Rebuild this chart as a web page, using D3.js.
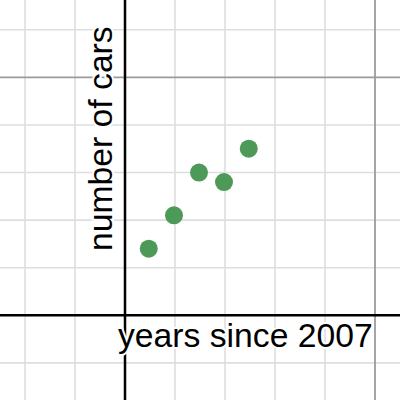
<!DOCTYPE html>
<html>
<head>
<meta charset="utf-8">
<script src="https://cdn.jsdelivr.net/npm/d3@7"></script>
<style>
  html, body { margin: 0; padding: 0; background: #fff; }
  svg { display: block; }
</style>
</head>
<body>
<div id="chart"></div>
<script>
// data
const years = [0.95, 1.96, 2.96, 3.96, 4.95];
const cars = [2.8, 4.2, 6.0, 5.6, 7.0];

// grid lines (minor every 2, major every 10)
const xGrid = [-4, -2, 2, 4, 6, 8];
const xMajor = [10];
const yGrid = [-2, 2, 4, 6, 8, 12];
const yMajor = [10];

const xTitle = "years since 2007";
const yTitle = "number of cars";

const width = 400;
const height = 400;

const svg = d3.select("#chart")
  .append("svg")
  .attr("width", width)
  .attr("height", height);

// scales
const x = d3.scaleLinear().domain([-5, 11]).range([0, width]);
const y = d3.scaleLinear().domain([-3.56, 13.25]).range([height, 0]);

// minor grid
svg.selectAll("line.vminor")
  .data(xGrid)
  .enter()
  .append("line")
  .attr("x1", d => x(d)).attr("x2", d => x(d))
  .attr("y1", 0).attr("y2", height)
  .attr("stroke", "#dedede")
  .attr("stroke-width", 1.6);

svg.selectAll("line.hminor")
  .data(yGrid)
  .enter()
  .append("line")
  .attr("x1", 0).attr("x2", width)
  .attr("y1", d => y(d)).attr("y2", d => y(d))
  .attr("stroke", "#dedede")
  .attr("stroke-width", 1.6);

// major grid
svg.selectAll("line.vmajor")
  .data(xMajor)
  .enter()
  .append("line")
  .attr("x1", d => x(d)).attr("x2", d => x(d))
  .attr("y1", 0).attr("y2", height)
  .attr("stroke", "#9b9b9b")
  .attr("stroke-width", 1.8);

svg.selectAll("line.hmajor")
  .data(yMajor)
  .enter()
  .append("line")
  .attr("x1", 0).attr("x2", width)
  .attr("y1", d => y(d)).attr("y2", d => y(d))
  .attr("stroke", "#9b9b9b")
  .attr("stroke-width", 1.8);

// axes
svg.append("line")
  .attr("x1", 0).attr("x2", width)
  .attr("y1", y(0)).attr("y2", y(0))
  .attr("stroke", "#000")
  .attr("stroke-width", 2.5);

svg.append("line")
  .attr("x1", x(0)).attr("x2", x(0))
  .attr("y1", 0).attr("y2", height)
  .attr("stroke", "#000")
  .attr("stroke-width", 2.5);

// axis titles with a white halo
svg.append("text")
  .attr("x", 118)
  .attr("y", 347)
  .style("font-family", "'Liberation Sans', Arial, sans-serif")
  .style("font-size", "33.7px")
  .attr("fill", "#000")
  .attr("stroke", "#fff")
  .attr("stroke-width", 4)
  .attr("paint-order", "stroke")
  .text(xTitle);

svg.append("text")
  .attr("transform", "translate(112,251) rotate(-90)")
  .style("font-family", "'Liberation Sans', Arial, sans-serif")
  .style("font-size", "33.7px")
  .attr("fill", "#000")
  .attr("stroke", "#fff")
  .attr("stroke-width", 4)
  .attr("paint-order", "stroke")
  .text(yTitle);

// points
svg.selectAll("circle")
  .data(years)
  .enter()
  .append("circle")
  .attr("cx", d => x(d))
  .attr("cy", (d, i) => y(cars[i]))
  .attr("r", 9)
  .attr("fill", "#4c9958");
</script>
</body>
</html>
